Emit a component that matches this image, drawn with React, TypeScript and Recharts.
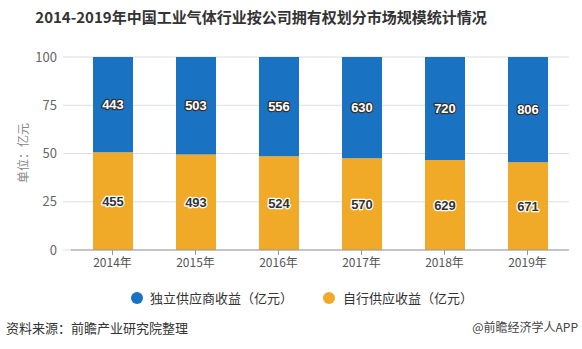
import { BarChart, Bar, XAxis, YAxis, CartesianGrid, LabelList } from "recharts";

const years = ["2014年", "2015年", "2016年", "2017年", "2018年", "2019年"];
const independent = [443, 503, 556, 630, 720, 806];
const selfSupply = [455, 493, 524, 570, 629, 671];
const yTicks = [0, 25, 50, 75, 100];

const BLUE = "#1a72c3";
const ORANGE = "#f0aa28";
const FONT = "'Noto Sans CJK SC', 'Noto Sans', sans-serif";

const data = years.map((year, i) => {
  const total = independent[i] + selfSupply[i];
  return {
    year,
    selfPct: (selfSupply[i] / total) * 100,
    indepPct: (independent[i] / total) * 100,
  };
});

function makeLabel(values: number[], fill: string, stroke: string) {
  return (props: any) => {
    const { x, y, width, height, index } = props;
    return (
      <text
        x={x + width / 2}
        y={y + height / 2}
        textAnchor="middle"
        dominantBaseline="central"
        fontSize={13}
        fontWeight="bold"
        fontFamily="Arial, 'Liberation Sans', sans-serif"
        fill={fill}
        stroke={stroke}
        strokeWidth={2.5}
        strokeLinejoin="round"
        paintOrder="stroke"
      >
        {values[index]}
      </text>
    );
  };
}

export default function App() {
  return (
    <div style={{ position: "absolute", left: 0, top: 0, width: 582, height: 349, background: "#fff", fontFamily: FONT }}>
      <div style={{ position: "absolute", left: 0, top: 6, width: 522, textAlign: "center", fontSize: 15, fontWeight: "bold", color: "#333", whiteSpace: "nowrap" }}>
        2014-2019年中国工业气体行业按公司拥有权划分市场规模统计情况
      </div>
      <div style={{ position: "absolute", left: 0, top: 0 }}>
        <BarChart width={582} height={349} data={data} margin={{ top: 57, right: 13, left: 0, bottom: 69 }}>
          <CartesianGrid vertical={false} stroke="#dddddd" />
          <XAxis
            dataKey="year"
            height={30}
            tickSize={5}
            axisLine={{ stroke: "#999" }}
            tickLine={{ stroke: "#999" }}
            tick={{ fontSize: 12, fill: "#555", fontFamily: FONT }}
            tickMargin={3}
          />
          <YAxis
            width={71}
            domain={[0, 100]}
            ticks={yTicks}
            axisLine={false}
            tickSize={8}
            tickLine={{ stroke: "#dddddd" }}
            tickMargin={6}
            tick={{ fontSize: 13, fill: "#666", fontFamily: FONT }}
          />
          <Bar dataKey="selfPct" stackId="a" fill={ORANGE} barSize={40} isAnimationActive={false}>
            <LabelList dataKey="selfPct" content={makeLabel(selfSupply, "#333", "#fff")} />
          </Bar>
          <Bar dataKey="indepPct" stackId="a" fill={BLUE} barSize={40} isAnimationActive={false}>
            <LabelList dataKey="indepPct" content={makeLabel(independent, "#fff", "#333")} />
          </Bar>
        </BarChart>
      </div>
      <div style={{ position: "absolute", left: 22, top: 153, transform: "translate(-50%, -50%) rotate(-90deg)", fontSize: 12, color: "#888", whiteSpace: "nowrap" }}>
        单位：亿元
      </div>
      <div style={{ position: "absolute", left: 131, top: 288, display: "flex", alignItems: "center", fontSize: 13, color: "#333", whiteSpace: "nowrap" }}>
        <span style={{ width: 12, height: 12, borderRadius: 6, background: BLUE, display: "inline-block", marginRight: 7 }} />
        独立供应商收益（亿元）
        <span style={{ width: 12, height: 12, borderRadius: 6, background: ORANGE, display: "inline-block", marginLeft: 30, marginRight: 8 }} />
        自行供应收益（亿元）
      </div>
      <div style={{ position: "absolute", left: 6, top: 318, fontSize: 13, color: "#333", whiteSpace: "nowrap" }}>
        资料来源：前瞻产业研究院整理
      </div>
      <div style={{ position: "absolute", right: 4, top: 318, fontSize: 12, color: "#444", whiteSpace: "nowrap" }}>
        @前瞻经济学人APP
      </div>
    </div>
  );
}
